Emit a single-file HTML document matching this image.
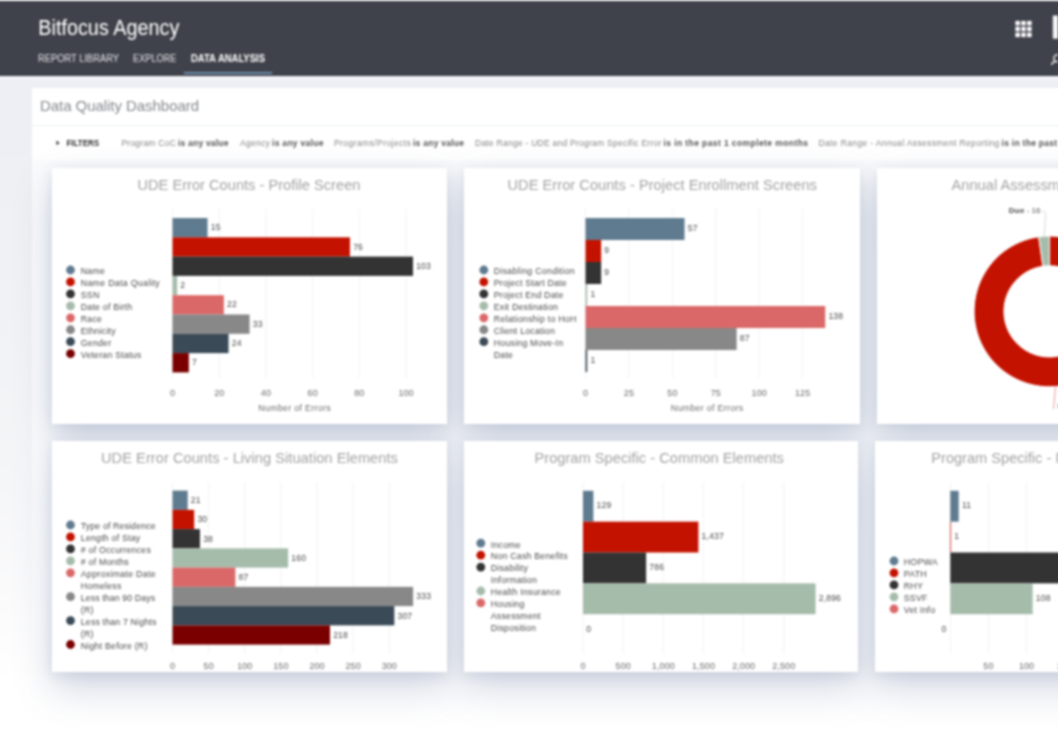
<!DOCTYPE html>
<html lang="en"><head><meta charset="utf-8"><title>Data Quality Dashboard - Bitfocus Agency</title>
<style>
html,body{margin:0;padding:0}
body{width:1058px;height:734px;overflow:hidden;position:relative;background:#fff;font-family:"Liberation Sans",sans-serif}
svg{display:block;position:absolute;left:0;top:0;overflow:hidden}
svg text{font-family:"Liberation Sans",sans-serif;white-space:pre}
#wrap{position:absolute;left:0;top:0;width:1058px;height:734px;filter:blur(0.9px)}
#bg{position:absolute;left:-20px;top:0;width:1098px;height:754px;background:linear-gradient(to bottom,#edeff4 0,#edeff4 120px,#eff1f4 220px,#f0f2f5 300px,#f4f5f7 450px,#fbfbfc 600px,#fff 680px)}
#top{position:absolute;left:-20px;top:0;width:1098px;height:76px;background:#40424b;border-top:1px solid #fff;box-sizing:border-box}
#top:after{content:"";position:absolute;left:0;top:75px;width:1098px;height:4px;background:#f1f3f8}
#tab{position:absolute;left:184px;top:72.3px;width:87.5px;height:1.4px;background:#6f90ad}
#panel{position:absolute;left:32px;top:88px;width:1046px;height:72px;background:#fff}
#panel .sep{position:absolute;left:0;top:37px;width:100%;height:1px;background:#eceef1}
#body{position:absolute;left:32px;top:160px;width:1046px;height:594px;background:linear-gradient(to bottom,#fafbfc 0,#fbfcfd 300px,#fff 540px)}
.card{position:absolute;background:#fff;overflow:hidden}
.sh{position:absolute;background:#fff;box-shadow:0 3px 12px rgba(85,105,148,0.15),0 16px 36px rgba(85,105,148,0.27)}
</style></head>
<body>
<div id="wrap">
<div id="bg"></div>
<div id="top"></div>
<div id="tab"></div>
<svg id="hdrsvg" width="1058" height="76" viewBox="0 0 1058 76">
<text x="38.30" y="34.80" font-size="21.5" fill="#ffffff" textLength="141.00" lengthAdjust="spacingAndGlyphs">Bitfocus Agency</text>
<text x="38.00" y="62.20" font-size="10.4" fill="#e4e5e8" textLength="81.00" lengthAdjust="spacingAndGlyphs">REPORT LIBRARY</text>
<text x="133.00" y="62.20" font-size="10.4" fill="#e4e5e8" textLength="43.50" lengthAdjust="spacingAndGlyphs">EXPLORE</text>
<text x="191.00" y="62.20" font-size="10.4" fill="#ffffff" textLength="74.00" lengthAdjust="spacingAndGlyphs" font-weight="700">DATA ANALYSIS</text>
<rect x="1015.40" y="20.90" width="4.5" height="4.5" fill="#fff"/>
<rect x="1015.40" y="26.75" width="4.5" height="4.5" fill="#fff"/>
<rect x="1015.40" y="32.60" width="4.5" height="4.5" fill="#fff"/>
<rect x="1021.25" y="20.90" width="4.5" height="4.5" fill="#fff"/>
<rect x="1021.25" y="26.75" width="4.5" height="4.5" fill="#fff"/>
<rect x="1021.25" y="32.60" width="4.5" height="4.5" fill="#fff"/>
<rect x="1027.10" y="20.90" width="4.5" height="4.5" fill="#fff"/>
<rect x="1027.10" y="26.75" width="4.5" height="4.5" fill="#fff"/>
<rect x="1027.10" y="32.60" width="4.5" height="4.5" fill="#fff"/>
<rect x="1052.8" y="15.5" width="10" height="23.2" fill="#f4f5f7"/>
<circle cx="1057.5" cy="58.3" r="3.6" fill="none" stroke="#fff" stroke-width="1.3"/><path d="M1054.8 61 L1051.3 64.5" stroke="#fff" stroke-width="1.5" fill="none"/>
</svg>
<div id="panel"><div class="sep"></div></div>
<div id="body"></div>
<svg id="pansvg" width="1058" height="160" viewBox="0 0 1058 160" style="pointer-events:none">
<text x="40.00" y="111.00" font-size="15" fill="#85888d" letter-spacing="-0.052">Data Quality Dashboard</text>
<path d="M56.5 140.6 L59.6 142.9 L56.5 145.2 Z" fill="#333"/>
<text x="66.40" y="146.00" font-size="8.7" fill="#2f2f2f" textLength="32.80" lengthAdjust="spacingAndGlyphs" font-weight="700">FILTERS</text>
<text x="121.40" y="145.90" font-size="8.5" fill="#858585" letter-spacing="0.244">Program CoC</text>
<text x="178.00" y="145.90" font-size="8.5" fill="#555555" font-weight="700" letter-spacing="0.210">is any value</text>
<text x="240.00" y="145.90" font-size="8.5" fill="#858585" letter-spacing="0.290">Agency</text>
<text x="272.00" y="145.90" font-size="8.5" fill="#555555" font-weight="700" letter-spacing="0.301">is any value</text>
<text x="334.00" y="145.90" font-size="8.5" fill="#858585" letter-spacing="0.431">Programs/Projects</text>
<text x="413.00" y="145.90" font-size="8.5" fill="#555555" font-weight="700" letter-spacing="0.255">is any value</text>
<text x="475.00" y="145.90" font-size="8.5" fill="#858585" letter-spacing="0.252">Date Range - UDE and Program Specific Error</text>
<text x="663.50" y="145.90" font-size="8.5" fill="#555555" font-weight="700" letter-spacing="0.410">is in the past 1 complete months</text>
<text x="818.50" y="145.90" font-size="8.5" fill="#858585" letter-spacing="0.371">Date Range - Annual Assessment Reporting</text>
<text x="1001.50" y="145.90" font-size="8.5" fill="#555555" font-weight="700" letter-spacing="0.280">is in the past 1 complete years</text>
</svg>
<div class="sh" style="left:52px;top:168px;width:395px;height:256px"></div>
<div class="sh" style="left:464px;top:168px;width:395.5px;height:256px"></div>
<div class="sh" style="left:52px;top:441px;width:394.5px;height:231px"></div>
<div class="sh" style="left:464px;top:441px;width:393.8px;height:231px"></div>
<div class="sh" style="left:874.5px;top:441px;width:395px;height:231px"></div>
<div class="sh" style="left:876.5px;top:168px;width:395px;height:256px"></div>
<div class="card" style="left:52px;top:168px;width:395px;height:256px;"><svg width="395" height="256" viewBox="52 168 395 256">
<text x="137.50" y="189.90" font-size="14.6" fill="#a2a2a2" letter-spacing="0.021">UDE Error Counts - Profile Screen</text>
<rect x="172.00" y="209" width="1" height="169" fill="#f2f2f2"/>
<text x="170.00" y="395.80" font-size="9" fill="#6b6b6b" letter-spacing="0.100">0</text>
<rect x="218.70" y="209" width="1" height="169" fill="#f2f2f2"/>
<text x="214.14" y="395.80" font-size="9" fill="#6b6b6b" letter-spacing="0.100">20</text>
<rect x="265.40" y="209" width="1" height="169" fill="#f2f2f2"/>
<text x="260.84" y="395.80" font-size="9" fill="#6b6b6b" letter-spacing="0.100">40</text>
<rect x="312.10" y="209" width="1" height="169" fill="#f2f2f2"/>
<text x="307.54" y="395.80" font-size="9" fill="#6b6b6b" letter-spacing="0.100">60</text>
<rect x="358.80" y="209" width="1" height="169" fill="#f2f2f2"/>
<text x="354.24" y="395.80" font-size="9" fill="#6b6b6b" letter-spacing="0.100">80</text>
<rect x="405.50" y="209" width="1" height="169" fill="#f2f2f2"/>
<text x="398.39" y="395.80" font-size="9" fill="#6b6b6b" letter-spacing="0.100">100</text>
<rect x="172.50" y="218.00" width="35.02" height="19.30" fill="#5f7b8f"/>
<text x="210.72" y="230.25" font-size="8.6" fill="#4a4a4a" letter-spacing="0.150">15</text>
<rect x="172.50" y="237.30" width="177.46" height="19.30" fill="#c41200"/>
<text x="353.16" y="249.55" font-size="8.6" fill="#4a4a4a" letter-spacing="0.150">76</text>
<rect x="172.50" y="256.60" width="240.50" height="19.30" fill="#333333"/>
<text x="416.20" y="268.85" font-size="8.6" fill="#4a4a4a" letter-spacing="0.150">103</text>
<rect x="172.50" y="275.90" width="4.67" height="19.30" fill="#a6bcab"/>
<text x="180.37" y="288.15" font-size="8.6" fill="#4a4a4a" letter-spacing="0.150">2</text>
<rect x="172.50" y="295.20" width="51.37" height="19.30" fill="#db6868"/>
<text x="227.07" y="307.45" font-size="8.6" fill="#4a4a4a" letter-spacing="0.150">22</text>
<rect x="172.50" y="314.50" width="77.05" height="19.30" fill="#888888"/>
<text x="252.75" y="326.75" font-size="8.6" fill="#4a4a4a" letter-spacing="0.150">33</text>
<rect x="172.50" y="333.80" width="56.04" height="19.30" fill="#3a4a56"/>
<text x="231.74" y="346.05" font-size="8.6" fill="#4a4a4a" letter-spacing="0.150">24</text>
<rect x="172.50" y="353.10" width="16.34" height="19.30" fill="#7a0000"/>
<text x="192.04" y="365.35" font-size="8.6" fill="#4a4a4a" letter-spacing="0.150">7</text>
<circle cx="70.5" cy="270" r="4.4" fill="#5f7b8f"/>
<text x="80.80" y="274.30" font-size="8.8" fill="#4a4a4a" letter-spacing="0.200">Name</text>
<circle cx="70.5" cy="281.95" r="4.4" fill="#c41200"/>
<text x="80.80" y="286.25" font-size="8.8" fill="#4a4a4a" letter-spacing="0.291">Name Data Quality</text>
<circle cx="70.5" cy="293.9" r="4.4" fill="#333333"/>
<text x="80.80" y="298.20" font-size="8.8" fill="#4a4a4a" letter-spacing="0.200">SSN</text>
<circle cx="70.5" cy="305.84999999999997" r="4.4" fill="#a6bcab"/>
<text x="80.80" y="310.15" font-size="8.8" fill="#4a4a4a" letter-spacing="0.200">Date of Birth</text>
<circle cx="70.5" cy="317.79999999999995" r="4.4" fill="#db6868"/>
<text x="80.80" y="322.10" font-size="8.8" fill="#4a4a4a" letter-spacing="0.200">Race</text>
<circle cx="70.5" cy="329.74999999999994" r="4.4" fill="#888888"/>
<text x="80.80" y="334.05" font-size="8.8" fill="#4a4a4a" letter-spacing="0.200">Ethnicity</text>
<circle cx="70.5" cy="341.69999999999993" r="4.4" fill="#3a4a56"/>
<text x="80.80" y="346.00" font-size="8.8" fill="#4a4a4a" letter-spacing="0.200">Gender</text>
<circle cx="70.5" cy="353.6499999999999" r="4.4" fill="#7a0000"/>
<text x="80.80" y="357.95" font-size="8.8" fill="#4a4a4a" letter-spacing="0.200">Veteran Status</text>
<text x="258.35" y="410.80" font-size="8.8" fill="#6b6b6b" letter-spacing="0.321">Number of Errors</text>
</svg></div>
<div class="card" style="left:464px;top:168px;width:395.5px;height:256px;"><svg width="396" height="256" viewBox="464 168 396 256">
<text x="507.50" y="189.90" font-size="14.6" fill="#a2a2a2" letter-spacing="0.045">UDE Error Counts - Project Enrollment Screens</text>
<rect x="585.00" y="209" width="1" height="169" fill="#f2f2f2"/>
<text x="583.00" y="395.80" font-size="9" fill="#6b6b6b" letter-spacing="0.100">0</text>
<rect x="628.42" y="209" width="1" height="169" fill="#f2f2f2"/>
<text x="623.87" y="395.80" font-size="9" fill="#6b6b6b" letter-spacing="0.100">25</text>
<rect x="671.85" y="209" width="1" height="169" fill="#f2f2f2"/>
<text x="667.29" y="395.80" font-size="9" fill="#6b6b6b" letter-spacing="0.100">50</text>
<rect x="715.27" y="209" width="1" height="169" fill="#f2f2f2"/>
<text x="710.72" y="395.80" font-size="9" fill="#6b6b6b" letter-spacing="0.100">75</text>
<rect x="758.70" y="209" width="1" height="169" fill="#f2f2f2"/>
<text x="751.59" y="395.80" font-size="9" fill="#6b6b6b" letter-spacing="0.100">100</text>
<rect x="802.12" y="209" width="1" height="169" fill="#f2f2f2"/>
<text x="795.02" y="395.80" font-size="9" fill="#6b6b6b" letter-spacing="0.100">125</text>
<rect x="585.50" y="218.00" width="99.01" height="22.00" fill="#5f7b8f"/>
<text x="687.71" y="230.60" font-size="8.6" fill="#4a4a4a" letter-spacing="0.150">57</text>
<rect x="585.50" y="240.00" width="15.63" height="22.00" fill="#c41200"/>
<text x="604.33" y="252.60" font-size="8.6" fill="#4a4a4a" letter-spacing="0.150">9</text>
<rect x="585.50" y="262.00" width="15.63" height="22.00" fill="#333333"/>
<text x="604.33" y="274.60" font-size="8.6" fill="#4a4a4a" letter-spacing="0.150">9</text>
<rect x="585.50" y="284.00" width="1.74" height="22.00" fill="#a6bcab"/>
<text x="590.44" y="296.60" font-size="8.6" fill="#4a4a4a" letter-spacing="0.150">1</text>
<rect x="585.50" y="306.00" width="239.71" height="22.00" fill="#db6868"/>
<text x="828.41" y="318.60" font-size="8.6" fill="#4a4a4a" letter-spacing="0.150">138</text>
<rect x="585.50" y="328.00" width="151.12" height="22.00" fill="#888888"/>
<text x="739.82" y="340.60" font-size="8.6" fill="#4a4a4a" letter-spacing="0.150">87</text>
<rect x="585.50" y="350.00" width="1.74" height="22.00" fill="#3a4a56"/>
<text x="590.44" y="362.60" font-size="8.6" fill="#4a4a4a" letter-spacing="0.150">1</text>
<circle cx="483.8" cy="270" r="4.4" fill="#5f7b8f"/>
<text x="493.80" y="274.30" font-size="8.8" fill="#4a4a4a" letter-spacing="0.276">Disabling Condition</text>
<circle cx="483.8" cy="281.95" r="4.4" fill="#c41200"/>
<text x="493.80" y="286.25" font-size="8.8" fill="#4a4a4a" letter-spacing="0.200">Project Start Date</text>
<circle cx="483.8" cy="293.9" r="4.4" fill="#333333"/>
<text x="493.80" y="298.20" font-size="8.8" fill="#4a4a4a" letter-spacing="0.200">Project End Date</text>
<circle cx="483.8" cy="305.84999999999997" r="4.4" fill="#a6bcab"/>
<text x="493.80" y="310.15" font-size="8.8" fill="#4a4a4a" letter-spacing="0.200">Exit Destination</text>
<circle cx="483.8" cy="317.79999999999995" r="4.4" fill="#db6868"/>
<text x="493.80" y="322.10" font-size="8.8" fill="#4a4a4a" letter-spacing="0.235">Relationship to HoH</text>
<circle cx="483.8" cy="329.74999999999994" r="4.4" fill="#888888"/>
<text x="493.80" y="334.05" font-size="8.8" fill="#4a4a4a" letter-spacing="0.200">Client Location</text>
<circle cx="483.8" cy="341.69999999999993" r="4.4" fill="#3a4a56"/>
<text x="493.80" y="346.00" font-size="8.8" fill="#4a4a4a" letter-spacing="0.200">Housing Move-In</text>
<text x="493.80" y="357.95" font-size="8.8" fill="#4a4a4a" letter-spacing="0.200">Date</text>
<text x="670.85" y="410.80" font-size="8.8" fill="#6b6b6b" letter-spacing="0.321">Number of Errors</text>
</svg></div>
<div class="card" style="left:876.5px;top:168px;width:395px;height:256px;"><svg width="395" height="256" viewBox="876.5 168 395 256">
<text x="951.00" y="189.90" font-size="14.6" fill="#a2a2a2" letter-spacing="0.040">Annual Assessment Status</text>
<path d="M1049.00 236.00 A75.4 75.4 0 1 1 1038.25 236.77 L1042.50 266.27 A45.6 45.6 0 1 0 1049.00 265.80 Z" fill="#c41200" stroke="#fff" stroke-width="1"/>
<path d="M1038.25 236.77 A75.4 75.4 0 0 1 1049.00 236.00 L1049.00 265.80 A45.6 45.6 0 0 0 1042.50 266.27 Z" fill="#a6bcab" stroke="#fff" stroke-width="1"/>
<text x="1008.30" y="212.90" font-size="8.0" fill="#444" font-weight="700" letter-spacing="0.243">Due</text>
<text x="1026.20" y="212.90" font-size="8.0" fill="#555">- 16</text>
<path d="M1041.5 211 C1045 211.5 1045.5 214 1045 218 L1043.6 236.5" fill="none" stroke="#d4d7d4" stroke-width="1"/>
<path d="M1055 386 L1054 398 C1053.6 404 1053.2 407 1053.2 409" fill="none" stroke="#e59a94" stroke-width="1"/>
<text x="1057.00" y="408.50" font-size="8.2" fill="#555">Completed - 702</text>
</svg></div>
<div class="card" style="left:52px;top:441px;width:394.5px;height:231px;"><svg width="395" height="231" viewBox="52 441 395 231">
<text x="101.00" y="462.60" font-size="14.6" fill="#a2a2a2" letter-spacing="0.057">UDE Error Counts - Living Situation Elements</text>
<rect x="172.00" y="482" width="1" height="172" fill="#f2f2f2"/>
<text x="170.00" y="668.80" font-size="9" fill="#6b6b6b" letter-spacing="0.100">0</text>
<rect x="208.12" y="482" width="1" height="172" fill="#f2f2f2"/>
<text x="203.57" y="668.80" font-size="9" fill="#6b6b6b" letter-spacing="0.100">50</text>
<rect x="244.25" y="482" width="1" height="172" fill="#f2f2f2"/>
<text x="237.14" y="668.80" font-size="9" fill="#6b6b6b" letter-spacing="0.100">100</text>
<rect x="280.38" y="482" width="1" height="172" fill="#f2f2f2"/>
<text x="273.27" y="668.80" font-size="9" fill="#6b6b6b" letter-spacing="0.100">150</text>
<rect x="316.50" y="482" width="1" height="172" fill="#f2f2f2"/>
<text x="309.39" y="668.80" font-size="9" fill="#6b6b6b" letter-spacing="0.100">200</text>
<rect x="352.62" y="482" width="1" height="172" fill="#f2f2f2"/>
<text x="345.52" y="668.80" font-size="9" fill="#6b6b6b" letter-spacing="0.100">250</text>
<rect x="388.75" y="482" width="1" height="172" fill="#f2f2f2"/>
<text x="381.64" y="668.80" font-size="9" fill="#6b6b6b" letter-spacing="0.100">300</text>
<rect x="172.50" y="490.60" width="15.17" height="19.25" fill="#5f7b8f"/>
<text x="190.87" y="503.08" font-size="8.6" fill="#4a4a4a" letter-spacing="0.150">21</text>
<rect x="172.50" y="509.85" width="21.68" height="19.25" fill="#c41200"/>
<text x="197.38" y="522.33" font-size="8.6" fill="#4a4a4a" letter-spacing="0.150">30</text>
<rect x="172.50" y="529.10" width="27.46" height="19.25" fill="#333333"/>
<text x="203.16" y="541.58" font-size="8.6" fill="#4a4a4a" letter-spacing="0.150">38</text>
<rect x="172.50" y="548.35" width="115.60" height="19.25" fill="#a6bcab"/>
<text x="291.30" y="560.83" font-size="8.6" fill="#4a4a4a" letter-spacing="0.150">160</text>
<rect x="172.50" y="567.60" width="62.86" height="19.25" fill="#db6868"/>
<text x="238.56" y="580.08" font-size="8.6" fill="#4a4a4a" letter-spacing="0.150">87</text>
<rect x="172.50" y="586.85" width="240.59" height="19.25" fill="#888888"/>
<text x="416.29" y="599.33" font-size="8.6" fill="#4a4a4a" letter-spacing="0.150">333</text>
<rect x="172.50" y="606.10" width="221.81" height="19.25" fill="#3a4a56"/>
<text x="397.51" y="618.58" font-size="8.6" fill="#4a4a4a" letter-spacing="0.150">307</text>
<rect x="172.50" y="625.35" width="157.50" height="19.25" fill="#7a0000"/>
<text x="333.20" y="637.83" font-size="8.6" fill="#4a4a4a" letter-spacing="0.150">218</text>
<circle cx="70.5" cy="525" r="4.4" fill="#5f7b8f"/>
<text x="80.80" y="529.30" font-size="8.8" fill="#4a4a4a" letter-spacing="0.119">Type of Residence</text>
<circle cx="70.5" cy="536.95" r="4.4" fill="#c41200"/>
<text x="80.80" y="541.25" font-size="8.8" fill="#4a4a4a" letter-spacing="0.200">Length of Stay</text>
<circle cx="70.5" cy="548.9000000000001" r="4.4" fill="#333333"/>
<text x="80.80" y="553.20" font-size="8.8" fill="#4a4a4a" letter-spacing="0.200"># of Occurrences</text>
<circle cx="70.5" cy="560.8500000000001" r="4.4" fill="#a6bcab"/>
<text x="80.80" y="565.15" font-size="8.8" fill="#4a4a4a" letter-spacing="0.200"># of Months</text>
<circle cx="70.5" cy="572.8000000000002" r="4.4" fill="#db6868"/>
<text x="80.80" y="577.10" font-size="8.8" fill="#4a4a4a" letter-spacing="0.291">Approximate Date</text>
<text x="80.80" y="589.05" font-size="8.8" fill="#4a4a4a" letter-spacing="0.200">Homeless</text>
<circle cx="70.5" cy="596.7000000000003" r="4.4" fill="#888888"/>
<text x="80.80" y="601.00" font-size="8.8" fill="#4a4a4a" letter-spacing="0.094">Less than 90 Days</text>
<text x="80.80" y="612.95" font-size="8.8" fill="#4a4a4a" letter-spacing="0.200">(R)</text>
<circle cx="70.5" cy="620.6000000000004" r="4.4" fill="#3a4a56"/>
<text x="80.80" y="624.90" font-size="8.8" fill="#4a4a4a" letter-spacing="0.154">Less than 7 Nights</text>
<text x="80.80" y="636.85" font-size="8.8" fill="#4a4a4a" letter-spacing="0.200">(R)</text>
<circle cx="70.5" cy="644.5000000000005" r="4.4" fill="#7a0000"/>
<text x="80.80" y="648.80" font-size="8.8" fill="#4a4a4a" letter-spacing="0.200">Night Before (R)</text>
</svg></div>
<div class="card" style="left:464px;top:441px;width:393.8px;height:231px;"><svg width="394" height="231" viewBox="464 441 394 231">
<text x="534.50" y="462.60" font-size="14.6" fill="#a2a2a2" letter-spacing="0.037">Program Specific - Common Elements</text>
<rect x="582.50" y="482" width="1" height="172" fill="#f2f2f2"/>
<text x="580.50" y="668.80" font-size="9" fill="#6b6b6b" letter-spacing="0.100">0</text>
<rect x="622.65" y="482" width="1" height="172" fill="#f2f2f2"/>
<text x="615.54" y="668.80" font-size="9" fill="#6b6b6b" letter-spacing="0.100">500</text>
<rect x="662.80" y="482" width="1" height="172" fill="#f2f2f2"/>
<text x="651.84" y="668.80" font-size="9" fill="#6b6b6b" letter-spacing="0.100">1,000</text>
<rect x="702.95" y="482" width="1" height="172" fill="#f2f2f2"/>
<text x="691.99" y="668.80" font-size="9" fill="#6b6b6b" letter-spacing="0.100">1,500</text>
<rect x="743.10" y="482" width="1" height="172" fill="#f2f2f2"/>
<text x="732.14" y="668.80" font-size="9" fill="#6b6b6b" letter-spacing="0.100">2,000</text>
<rect x="783.25" y="482" width="1" height="172" fill="#f2f2f2"/>
<text x="772.29" y="668.80" font-size="9" fill="#6b6b6b" letter-spacing="0.100">2,500</text>
<rect x="583.00" y="490.80" width="10.36" height="30.85" fill="#5f7b8f"/>
<text x="596.56" y="508.33" font-size="8.6" fill="#4a4a4a" letter-spacing="0.150">129</text>
<rect x="583.00" y="521.65" width="115.39" height="30.85" fill="#c41200"/>
<text x="701.59" y="539.17" font-size="8.6" fill="#4a4a4a" letter-spacing="0.150">1,437</text>
<rect x="583.00" y="552.50" width="63.12" height="30.85" fill="#333333"/>
<text x="649.32" y="570.02" font-size="8.6" fill="#4a4a4a" letter-spacing="0.150">786</text>
<rect x="583.00" y="583.35" width="232.55" height="30.85" fill="#a6bcab"/>
<text x="818.75" y="600.88" font-size="8.6" fill="#4a4a4a" letter-spacing="0.150">2,896</text>
<text x="586.20" y="631.73" font-size="8.6" fill="#4a4a4a" letter-spacing="0.150">0</text>
<circle cx="480.8" cy="543.2" r="4.4" fill="#5f7b8f"/>
<text x="490.80" y="547.50" font-size="8.8" fill="#4a4a4a" letter-spacing="0.200">Income</text>
<circle cx="480.8" cy="555.1500000000001" r="4.4" fill="#c41200"/>
<text x="490.80" y="559.45" font-size="8.8" fill="#4a4a4a" letter-spacing="0.214">Non Cash Benefits</text>
<circle cx="480.8" cy="567.1000000000001" r="4.4" fill="#333333"/>
<text x="490.80" y="571.40" font-size="8.8" fill="#4a4a4a" letter-spacing="0.200">Disability</text>
<text x="490.80" y="583.35" font-size="8.8" fill="#4a4a4a" letter-spacing="0.200">Information</text>
<circle cx="480.8" cy="591.0000000000002" r="4.4" fill="#a6bcab"/>
<text x="490.80" y="595.30" font-size="8.8" fill="#4a4a4a" letter-spacing="0.231">Health Insurance</text>
<circle cx="480.8" cy="602.9500000000003" r="4.4" fill="#db6868"/>
<text x="490.80" y="607.25" font-size="8.8" fill="#4a4a4a" letter-spacing="0.200">Housing</text>
<text x="490.80" y="619.20" font-size="8.8" fill="#4a4a4a" letter-spacing="0.200">Assessment</text>
<text x="490.80" y="631.15" font-size="8.8" fill="#4a4a4a" letter-spacing="0.200">Disposition</text>
</svg></div>
<div class="card" style="left:874.5px;top:441px;width:395px;height:231px;"><svg width="395" height="231" viewBox="874.5 441 395 231">
<text x="930.80" y="462.60" font-size="14.6" fill="#a2a2a2">Program Specific - Federal Partner Elements</text>
<rect x="949.30" y="482" width="1" height="172" fill="#f2f2f2"/>
<rect x="987.40" y="482" width="1" height="172" fill="#f2f2f2"/>
<text x="982.84" y="668.80" font-size="9" fill="#6b6b6b" letter-spacing="0.100">50</text>
<rect x="1025.50" y="482" width="1" height="172" fill="#f2f2f2"/>
<text x="1018.39" y="668.80" font-size="9" fill="#6b6b6b" letter-spacing="0.100">100</text>
<rect x="1063.60" y="482" width="1" height="172" fill="#f2f2f2"/>
<text x="1056.49" y="668.80" font-size="9" fill="#6b6b6b" letter-spacing="0.100">150</text>
<rect x="1101.70" y="482" width="1" height="172" fill="#f2f2f2"/>
<text x="1094.59" y="668.80" font-size="9" fill="#6b6b6b" letter-spacing="0.100">200</text>
<rect x="1139.80" y="482" width="1" height="172" fill="#f2f2f2"/>
<text x="1132.69" y="668.80" font-size="9" fill="#6b6b6b" letter-spacing="0.100">250</text>
<rect x="949.80" y="490.80" width="8.38" height="30.85" fill="#5f7b8f"/>
<text x="961.38" y="508.33" font-size="8.6" fill="#4a4a4a" letter-spacing="0.150">11</text>
<rect x="949.80" y="521.65" width="0.76" height="30.85" fill="#c41200"/>
<text x="953.76" y="539.17" font-size="8.6" fill="#4a4a4a" letter-spacing="0.150">1</text>
<rect x="949.80" y="552.50" width="199.64" height="30.85" fill="#333333"/>
<text x="1152.64" y="570.02" font-size="8.6" fill="#4a4a4a" letter-spacing="0.150">262</text>
<rect x="949.80" y="583.35" width="82.30" height="30.85" fill="#a6bcab"/>
<text x="1035.30" y="600.88" font-size="8.6" fill="#4a4a4a" letter-spacing="0.150">108</text>
<text x="941.02" y="631.73" font-size="8.6" fill="#4a4a4a">0</text>
<circle cx="893.5" cy="561" r="4.4" fill="#5f7b8f"/>
<text x="903.30" y="565.30" font-size="8.8" fill="#4a4a4a" letter-spacing="0.200">HOPWA</text>
<circle cx="893.5" cy="572.95" r="4.4" fill="#c41200"/>
<text x="903.30" y="577.25" font-size="8.8" fill="#4a4a4a" letter-spacing="0.200">PATH</text>
<circle cx="893.5" cy="584.9000000000001" r="4.4" fill="#333333"/>
<text x="903.30" y="589.20" font-size="8.8" fill="#4a4a4a" letter-spacing="0.200">RHY</text>
<circle cx="893.5" cy="596.8500000000001" r="4.4" fill="#a6bcab"/>
<text x="903.30" y="601.15" font-size="8.8" fill="#4a4a4a" letter-spacing="0.200">SSVF</text>
<circle cx="893.5" cy="608.8000000000002" r="4.4" fill="#db6868"/>
<text x="903.30" y="613.10" font-size="8.8" fill="#4a4a4a" letter-spacing="0.200">Vet Info</text>
</svg></div>
</div>
</body></html>
